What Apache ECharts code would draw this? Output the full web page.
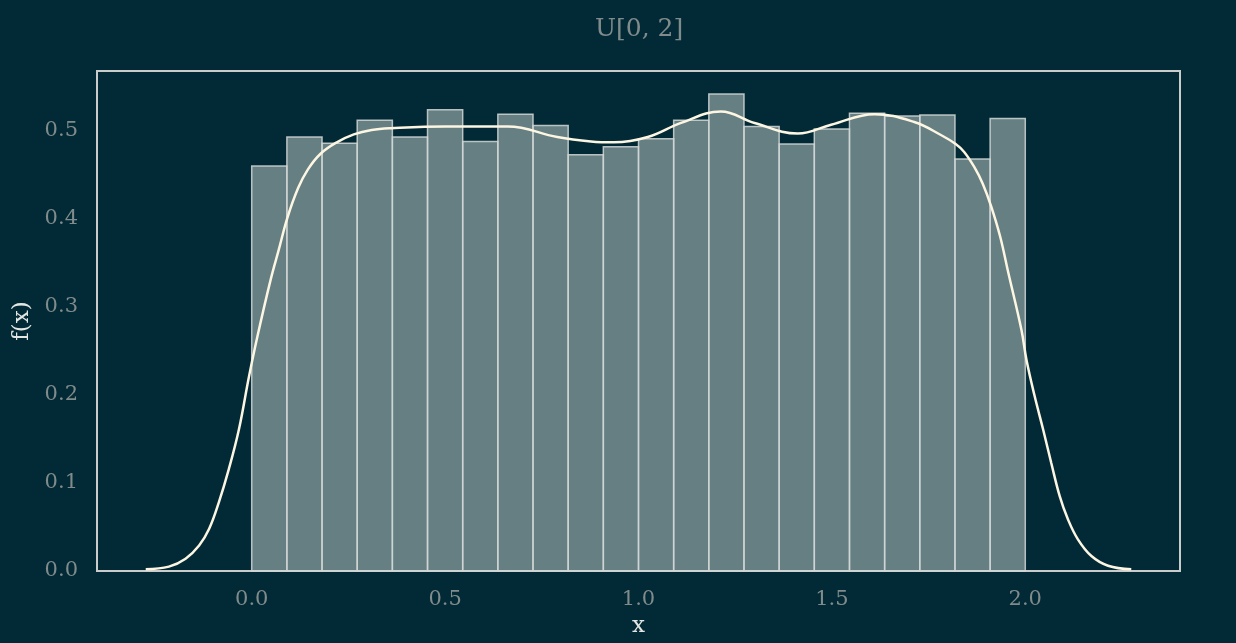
<!DOCTYPE html>
<html>
<head>
<meta charset="utf-8">
<script src="https://cdn.jsdelivr.net/npm/echarts@6/dist/echarts.min.js"></script>
<style>
html,body{margin:0;padding:0;background:#022a36;}
#chart{width:1236px;height:643px;}
</style>
</head>
<body>
<div id="chart"></div>
<script>
// Histogram: 22 bins on [0, 2]
var binStart = 0;
var binEnd = 2;
var binHeights = [0.460, 0.493, 0.486, 0.512, 0.493, 0.524, 0.488, 0.519, 0.506, 0.473, 0.482,
                  0.491, 0.512, 0.542, 0.505, 0.485, 0.502, 0.520, 0.517, 0.518, 0.468, 0.514];
// KDE curve
var kdeX = [-0.274, -0.214, -0.171, -0.136, -0.110, -0.085, -0.059, -0.033, -0.007, 0.015, 0.049, 0.070,
            0.092, 0.120, 0.145, 0.178, 0.220, 0.264, 0.310, 0.360, 0.500, 0.662, 0.790, 0.877, 0.937,
            1.024, 1.110, 1.213, 1.300, 1.412, 1.498, 1.610, 1.713, 1.783, 1.820, 1.842, 1.868, 1.890,
            1.912, 1.935, 1.956, 1.990, 2.003, 2.024, 2.046, 2.067, 2.089, 2.110, 2.136, 2.171, 2.214, 2.274];
var kdeY = [0.002, 0.005, 0.014, 0.029, 0.048, 0.078, 0.116, 0.161, 0.221, 0.267, 0.331, 0.365,
            0.401, 0.435, 0.456, 0.474, 0.487, 0.496, 0.501, 0.503, 0.505, 0.505, 0.493, 0.488, 0.487,
            0.493, 0.509, 0.522, 0.509, 0.497, 0.507, 0.519, 0.510, 0.495, 0.485, 0.476, 0.459, 0.440,
            0.414, 0.380, 0.339, 0.274, 0.240, 0.199, 0.161, 0.123, 0.085, 0.059, 0.036, 0.017, 0.006, 0.002];
var xTicks = [0.0, 0.5, 1.0, 1.5, 2.0];
var yTicks = [0.0, 0.1, 0.2, 0.3, 0.4, 0.5];

var binW = (binEnd - binStart) / binHeights.length;
var barData = binHeights.map(function (h, i) {
  return [binStart + i * binW, binStart + (i + 1) * binW, h];
});
var lineData = kdeX.map(function (x, i) { return [x, kdeY[i]]; });

var serif = 'DejaVu Serif';
var chart = echarts.init(document.getElementById('chart'));
chart.setOption({
  backgroundColor: '#022a36',
  animation: false,
  title: {
    text: 'U[0, 2]',
    left: 590,
    top: 12,
    textStyle: { fontFamily: serif, fontSize: 25, fontWeight: 'normal', color: '#808b8b' }
  },
  grid: {
    left: 97, right: 56, top: 71, bottom: 71,
    show: true, borderColor: '#c9cccb', borderWidth: 2, backgroundColor: 'transparent'
  },
  xAxis: {
    type: 'value',
    min: -0.4, max: 2.4, interval: 0.1,
    name: 'x', nameLocation: 'middle', nameGap: 44,
    nameTextStyle: { fontFamily: serif, fontSize: 23, color: '#e4e6e4' },
    axisLine: { show: false }, axisTick: { show: false }, splitLine: { show: false },
    axisLabel: {
      fontFamily: serif, fontSize: 21, color: '#808b8b', margin: 18,
      formatter: function (v) {
        for (var i = 0; i < xTicks.length; i++) {
          if (Math.abs(v - xTicks[i]) < 1e-6) return xTicks[i].toFixed(1);
        }
        return '';
      }
    }
  },
  yAxis: {
    type: 'value',
    min: 0, max: 0.568, interval: 0.1,
    name: 'f(x)', nameLocation: 'middle', nameGap: 62,
    nameTextStyle: { fontFamily: serif, fontSize: 23, color: '#e4e6e4' },
    axisLine: { show: false }, axisTick: { show: false }, splitLine: { show: false },
    axisLabel: {
      fontFamily: serif, fontSize: 21, color: '#808b8b', margin: 19,
      formatter: function (v) {
        for (var i = 0; i < yTicks.length; i++) {
          if (Math.abs(v - yTicks[i]) < 1e-6) return yTicks[i].toFixed(1);
        }
        return '';
      }
    }
  },
  series: [
    {
      type: 'custom',
      data: barData,
      encode: { x: [0, 1], y: 2 },
      renderItem: function (params, api) {
        var p0 = api.coord([api.value(0), 0]);
        var p1 = api.coord([api.value(1), api.value(2)]);
        return {
          type: 'rect',
          shape: { x: p0[0], y: p1[1], width: p1[0] - p0[0], height: p0[1] - p1[1] },
          style: { fill: 'rgba(199,212,205,0.5)', stroke: 'rgba(210,215,214,0.85)', lineWidth: 1.5 }
        };
      },
      z: 2
    },
    {
      type: 'line',
      data: lineData,
      smooth: 0.4,
      showSymbol: false,
      lineStyle: { color: '#fdf6e3', width: 2.5 },
      z: 3
    }
  ]
});
</script>
</body>
</html>
